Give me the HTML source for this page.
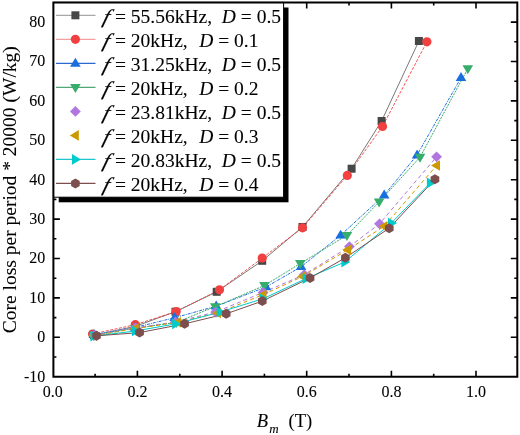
<!DOCTYPE html><html><head><meta charset="utf-8"><style>html,body{margin:0;padding:0;background:#fff;}svg{display:block;filter:blur(0.3px);}text{font-family:"Liberation Serif","Times New Roman",serif;fill:#000;stroke:#000;stroke-width:0.08px;}</style></head><body>
<svg width="520" height="435" viewBox="0 0 520 435">
<rect width="520" height="435" fill="#fff"/>
<polyline points="93.9,335.3 135.3,326.3 175.5,311.7 216.7,291.8 262.2,260.8 302.5,227.0 351.6,168.7 381.6,121.0 418.9,41.0" fill="none" stroke="#555555" stroke-width="0.8"/>
<polyline points="92.5,334.0 135.3,324.7 176.2,311.5 219.5,289.8 262.2,258.1 302.5,227.8 347.3,175.4 382.5,126.5 426.9,41.8" fill="none" stroke="#F14040" stroke-width="0.9" stroke-dasharray="3 1.5"/>
<polyline points="93.9,334.5 135.3,327.4 174.7,317.7 216.2,306.2 266.0,287.0 301.1,266.8 340.6,235.3 384.2,195.2 417.1,155.0 461.0,77.7" fill="none" stroke="#1A6FDF" stroke-width="1" stroke-dasharray="3 1 1 1"/>
<polyline points="93.9,335.3 135.3,328.2 176.4,322.3 215.3,306.6 264.4,285.5 300.3,263.5 346.9,235.3 379.1,202.0 420.0,157.2 467.8,68.6" fill="none" stroke="#37AD6B" stroke-width="1" stroke-dasharray="2 1"/>
<polyline points="93.9,335.3 135.3,327.8 175.5,321.9 215.7,312.1 263.1,292.4 304.2,274.7 349.4,246.6 379.5,223.8 436.6,156.8" fill="none" stroke="#B177DE" stroke-width="1" stroke-dasharray="4 3"/>
<polyline points="93.9,335.7 135.3,328.6 177.6,322.3 217.7,313.0 263.1,294.7 302.7,276.4 347.8,249.8 384.2,226.2 436.6,165.5" fill="none" stroke="#CC9900" stroke-width="1" stroke-dasharray="4 3"/>
<polyline points="93.9,336.1 135.3,331.0 175.5,323.9 220.0,312.1 263.1,298.7 306.0,278.6 344.8,262.0 391.4,223.0 430.3,182.9" fill="none" stroke="#00CBCC" stroke-width="1"/>
<polyline points="96.5,335.8 139.6,332.6 184.6,323.8 226.2,313.8 262.3,301.1 310.0,278.0 345.4,257.8 389.2,228.2 434.9,179.3" fill="none" stroke="#7D4E4E" stroke-width="1"/>
<rect x="89.9" y="331.3" width="8.0" height="8.0" fill="#474747"/>
<rect x="131.3" y="322.3" width="8.0" height="8.0" fill="#474747"/>
<rect x="171.5" y="307.7" width="8.0" height="8.0" fill="#474747"/>
<rect x="212.7" y="287.8" width="8.0" height="8.0" fill="#474747"/>
<rect x="258.2" y="256.8" width="8.0" height="8.0" fill="#474747"/>
<rect x="298.5" y="223.0" width="8.0" height="8.0" fill="#474747"/>
<rect x="347.6" y="164.7" width="8.0" height="8.0" fill="#474747"/>
<rect x="377.6" y="117.0" width="8.0" height="8.0" fill="#474747"/>
<rect x="414.9" y="37.0" width="8.0" height="8.0" fill="#474747"/>
<circle cx="92.5" cy="334.0" r="4.6" fill="#F14040"/>
<circle cx="135.3" cy="324.7" r="4.6" fill="#F14040"/>
<circle cx="176.2" cy="311.5" r="4.6" fill="#F14040"/>
<circle cx="219.5" cy="289.8" r="4.6" fill="#F14040"/>
<circle cx="262.2" cy="258.1" r="4.6" fill="#F14040"/>
<circle cx="302.5" cy="227.8" r="4.6" fill="#F14040"/>
<circle cx="347.3" cy="175.4" r="4.6" fill="#F14040"/>
<circle cx="382.5" cy="126.5" r="4.6" fill="#F14040"/>
<circle cx="426.9" cy="41.8" r="4.6" fill="#F14040"/>
<polygon points="93.9,328.9 99.2,337.9 88.5,337.9" fill="#1A6FDF"/>
<polygon points="135.3,321.8 140.6,330.8 130.0,330.8" fill="#1A6FDF"/>
<polygon points="174.7,312.1 180.0,321.1 169.4,321.1" fill="#1A6FDF"/>
<polygon points="216.2,300.6 221.5,309.5 210.8,309.5" fill="#1A6FDF"/>
<polygon points="266.0,281.4 271.3,290.3 260.7,290.3" fill="#1A6FDF"/>
<polygon points="301.1,261.2 306.4,270.1 295.8,270.1" fill="#1A6FDF"/>
<polygon points="340.6,229.7 345.9,238.6 335.3,238.6" fill="#1A6FDF"/>
<polygon points="384.2,189.6 389.5,198.5 378.8,198.5" fill="#1A6FDF"/>
<polygon points="417.1,149.4 422.5,158.4 411.8,158.4" fill="#1A6FDF"/>
<polygon points="461.0,72.1 466.3,81.0 455.7,81.0" fill="#1A6FDF"/>
<polygon points="93.9,340.9 99.2,332.0 88.5,332.0" fill="#37AD6B"/>
<polygon points="135.3,333.8 140.6,324.9 130.0,324.9" fill="#37AD6B"/>
<polygon points="176.4,327.9 181.7,319.0 171.1,319.0" fill="#37AD6B"/>
<polygon points="215.3,312.2 220.6,303.2 210.0,303.2" fill="#37AD6B"/>
<polygon points="264.4,291.1 269.7,282.1 259.1,282.1" fill="#37AD6B"/>
<polygon points="300.3,269.1 305.6,260.1 295.0,260.1" fill="#37AD6B"/>
<polygon points="346.9,240.9 352.2,231.9 341.6,231.9" fill="#37AD6B"/>
<polygon points="379.1,207.6 384.4,198.6 373.8,198.6" fill="#37AD6B"/>
<polygon points="420.0,162.8 425.3,153.8 414.7,153.8" fill="#37AD6B"/>
<polygon points="467.8,74.2 473.1,65.2 462.5,65.2" fill="#37AD6B"/>
<polygon points="93.9,329.9 99.3,335.3 93.9,340.7 88.5,335.3" fill="#B177DE"/>
<polygon points="135.3,322.4 140.7,327.8 135.3,333.2 129.9,327.8" fill="#B177DE"/>
<polygon points="175.5,316.5 180.9,321.9 175.5,327.3 170.1,321.9" fill="#B177DE"/>
<polygon points="215.7,306.7 221.1,312.1 215.7,317.5 210.3,312.1" fill="#B177DE"/>
<polygon points="263.1,287.0 268.5,292.4 263.1,297.8 257.7,292.4" fill="#B177DE"/>
<polygon points="304.2,269.3 309.6,274.7 304.2,280.1 298.8,274.7" fill="#B177DE"/>
<polygon points="349.4,241.2 354.8,246.6 349.4,252.0 344.0,246.6" fill="#B177DE"/>
<polygon points="379.5,218.4 384.9,223.8 379.5,229.2 374.1,223.8" fill="#B177DE"/>
<polygon points="436.6,151.4 442.0,156.8 436.6,162.2 431.2,156.8" fill="#B177DE"/>
<polygon points="88.3,335.7 97.2,330.4 97.2,341.0" fill="#CC9900"/>
<polygon points="129.7,328.6 138.7,323.3 138.7,334.0" fill="#CC9900"/>
<polygon points="172.0,322.3 181.0,317.0 181.0,327.6" fill="#CC9900"/>
<polygon points="212.1,313.0 221.0,307.7 221.0,318.3" fill="#CC9900"/>
<polygon points="257.5,294.7 266.5,289.4 266.5,300.1" fill="#CC9900"/>
<polygon points="297.1,276.4 306.1,271.1 306.1,281.7" fill="#CC9900"/>
<polygon points="342.2,249.8 351.2,244.5 351.2,255.2" fill="#CC9900"/>
<polygon points="378.6,226.2 387.5,220.9 387.5,231.5" fill="#CC9900"/>
<polygon points="431.0,165.5 440.0,160.2 440.0,170.8" fill="#CC9900"/>
<polygon points="99.5,336.1 90.5,330.8 90.5,341.4" fill="#00CBCC"/>
<polygon points="140.9,331.0 132.0,325.7 132.0,336.3" fill="#00CBCC"/>
<polygon points="181.1,323.9 172.2,318.6 172.2,329.2" fill="#00CBCC"/>
<polygon points="225.6,312.1 216.6,306.8 216.6,317.4" fill="#00CBCC"/>
<polygon points="268.7,298.7 259.8,293.4 259.8,304.0" fill="#00CBCC"/>
<polygon points="311.6,278.6 302.6,273.3 302.6,283.9" fill="#00CBCC"/>
<polygon points="350.4,262.0 341.4,256.7 341.4,267.4" fill="#00CBCC"/>
<polygon points="397.0,223.0 388.0,217.7 388.0,228.4" fill="#00CBCC"/>
<polygon points="435.9,182.9 426.9,177.5 426.9,188.2" fill="#00CBCC"/>
<polygon points="100.8,338.3 96.5,340.8 92.2,338.3 92.2,333.3 96.5,330.8 100.8,333.3" fill="#7D4E4E"/>
<polygon points="143.9,335.1 139.6,337.6 135.2,335.1 135.2,330.1 139.6,327.6 143.9,330.1" fill="#7D4E4E"/>
<polygon points="188.9,326.3 184.6,328.8 180.3,326.3 180.3,321.3 184.6,318.8 188.9,321.3" fill="#7D4E4E"/>
<polygon points="230.5,316.3 226.2,318.8 221.9,316.3 221.9,311.3 226.2,308.8 230.5,311.3" fill="#7D4E4E"/>
<polygon points="266.6,303.6 262.3,306.1 258.0,303.6 258.0,298.6 262.3,296.1 266.6,298.6" fill="#7D4E4E"/>
<polygon points="314.4,280.5 310.0,283.0 305.7,280.5 305.7,275.5 310.0,273.0 314.4,275.5" fill="#7D4E4E"/>
<polygon points="349.7,260.3 345.4,262.8 341.1,260.3 341.1,255.3 345.4,252.8 349.7,255.3" fill="#7D4E4E"/>
<polygon points="393.6,230.7 389.2,233.2 384.9,230.7 384.9,225.7 389.2,223.2 393.6,225.7" fill="#7D4E4E"/>
<polygon points="439.3,181.8 434.9,184.3 430.6,181.8 430.6,176.8 434.9,174.3 439.3,176.8" fill="#7D4E4E"/>
<path d="M95.1,376.8v-3M95.1,2.4v3M137.4,376.8v-6M137.4,2.4v6M179.8,376.8v-3M179.8,2.4v3M222.1,376.8v-6M222.1,2.4v6M264.4,376.8v-3M264.4,2.4v3M306.7,376.8v-6M306.7,2.4v6M349.0,376.8v-3M349.0,2.4v3M391.4,376.8v-6M391.4,2.4v6M433.7,376.8v-3M433.7,2.4v3M476.0,376.8v-6M476.0,2.4v6M53.4,357.0h3M517.3,357.0h-3M53.4,337.3h6.5M517.3,337.3h-6.5M53.4,317.6h3M517.3,317.6h-3M53.4,297.9h6.5M517.3,297.9h-6.5M53.4,278.2h3M517.3,278.2h-3M53.4,258.5h6.5M517.3,258.5h-6.5M53.4,238.8h3M517.3,238.8h-3M53.4,219.1h6.5M517.3,219.1h-6.5M53.4,199.4h3M517.3,199.4h-3M53.4,179.7h6.5M517.3,179.7h-6.5M53.4,160.0h3M517.3,160.0h-3M53.4,140.3h6.5M517.3,140.3h-6.5M53.4,120.6h3M517.3,120.6h-3M53.4,100.9h6.5M517.3,100.9h-6.5M53.4,81.2h3M517.3,81.2h-3M53.4,61.5h6.5M517.3,61.5h-6.5M53.4,41.8h3M517.3,41.8h-3M53.4,22.1h6.5M517.3,22.1h-6.5" stroke="#000" stroke-width="1.6" fill="none"/>
<rect x="58.7" y="7.5" width="229.8" height="194.8" fill="#000"/>
<rect x="53.4" y="2.4" width="230.20000000000002" height="194.79999999999998" fill="#fff" stroke="#000" stroke-width="1"/>
<line x1="56" y1="15.3" x2="95.5" y2="15.3" stroke="#a8a8a8" stroke-width="1.2"/>
<rect x="71.4" y="11.3" width="8.0" height="8.0" fill="#474747"/>
<text x="102.6" y="22.7" font-size="19.5" font-style="italic" style="stroke-width:0.2px" transform="translate(107.6,22.7) skewX(-16) scale(1.12,1) translate(-107.6,-22.7)">f</text>
<text x="110.1" y="22.7" font-size="19.5" style="white-space:pre"> = 55.56kHz,  <tspan font-style="italic" dx="0">D</tspan> = 0.5</text>
<line x1="56" y1="39.3" x2="95.5" y2="39.3" stroke="#f4a0a0" stroke-width="1.2"/>
<circle cx="75.4" cy="39.3" r="4.6" fill="#F14040"/>
<text x="102.6" y="46.7" font-size="19.5" font-style="italic" style="stroke-width:0.2px" transform="translate(107.6,46.7) skewX(-16) scale(1.12,1) translate(-107.6,-46.7)">f</text>
<text x="110.1" y="46.7" font-size="19.5" style="white-space:pre"> = 20kHz,  <tspan font-style="italic" dx="1.8">D</tspan> = 0.1</text>
<line x1="56" y1="63.3" x2="95.5" y2="63.3" stroke="#2a6ad0" stroke-width="1.2"/>
<polygon points="75.4,57.7 80.7,66.7 70.1,66.7" fill="#1A6FDF"/>
<text x="102.6" y="70.7" font-size="19.5" font-style="italic" style="stroke-width:0.2px" transform="translate(107.6,70.7) skewX(-16) scale(1.12,1) translate(-107.6,-70.7)">f</text>
<text x="110.1" y="70.7" font-size="19.5" style="white-space:pre"> = 31.25kHz,  <tspan font-style="italic" dx="0">D</tspan> = 0.5</text>
<line x1="56" y1="87.4" x2="95.5" y2="87.4" stroke="#50a878" stroke-width="1.2"/>
<polygon points="75.4,93.0 80.7,84.0 70.1,84.0" fill="#37AD6B"/>
<text x="102.6" y="94.8" font-size="19.5" font-style="italic" style="stroke-width:0.2px" transform="translate(107.6,94.8) skewX(-16) scale(1.12,1) translate(-107.6,-94.8)">f</text>
<text x="110.1" y="94.8" font-size="19.5" style="white-space:pre"> = 20kHz,  <tspan font-style="italic" dx="1.8">D</tspan> = 0.2</text>
<polygon points="75.4,106.0 80.8,111.4 75.4,116.8 70.0,111.4" fill="#B177DE"/>
<text x="102.6" y="118.8" font-size="19.5" font-style="italic" style="stroke-width:0.2px" transform="translate(107.6,118.8) skewX(-16) scale(1.12,1) translate(-107.6,-118.8)">f</text>
<text x="110.1" y="118.8" font-size="19.5" style="white-space:pre"> = 23.81kHz,  <tspan font-style="italic" dx="0">D</tspan> = 0.5</text>
<polygon points="69.8,135.4 78.8,130.1 78.8,140.7" fill="#CC9900"/>
<text x="102.6" y="142.8" font-size="19.5" font-style="italic" style="stroke-width:0.2px" transform="translate(107.6,142.8) skewX(-16) scale(1.12,1) translate(-107.6,-142.8)">f</text>
<text x="110.1" y="142.8" font-size="19.5" style="white-space:pre"> = 20kHz,  <tspan font-style="italic" dx="1.8">D</tspan> = 0.3</text>
<line x1="56" y1="159.4" x2="95.5" y2="159.4" stroke="#20c4cc" stroke-width="1.2"/>
<polygon points="81.0,159.4 72.0,154.1 72.0,164.7" fill="#00CBCC"/>
<text x="102.6" y="166.8" font-size="19.5" font-style="italic" style="stroke-width:0.2px" transform="translate(107.6,166.8) skewX(-16) scale(1.12,1) translate(-107.6,-166.8)">f</text>
<text x="110.1" y="166.8" font-size="19.5" style="white-space:pre"> = 20.83kHz,  <tspan font-style="italic" dx="0">D</tspan> = 0.5</text>
<line x1="56" y1="183.4" x2="95.5" y2="183.4" stroke="#7D4E4E" stroke-width="1.2"/>
<polygon points="79.7,185.9 75.4,188.4 71.1,185.9 71.1,180.9 75.4,178.4 79.7,180.9" fill="#7D4E4E"/>
<text x="102.6" y="190.8" font-size="19.5" font-style="italic" style="stroke-width:0.2px" transform="translate(107.6,190.8) skewX(-16) scale(1.12,1) translate(-107.6,-190.8)">f</text>
<text x="110.1" y="190.8" font-size="19.5" style="white-space:pre"> = 20kHz,  <tspan font-style="italic" dx="1.8">D</tspan> = 0.4</text>
<path d="M53.4,2.4H517.3V376.8H53.4Z" fill="none" stroke="#000" stroke-width="2"/>
<text x="52.8" y="396.8" font-size="16" text-anchor="middle">0.0</text>
<text x="137.4" y="396.8" font-size="16" text-anchor="middle">0.2</text>
<text x="222.1" y="396.8" font-size="16" text-anchor="middle">0.4</text>
<text x="306.7" y="396.8" font-size="16" text-anchor="middle">0.6</text>
<text x="391.4" y="396.8" font-size="16" text-anchor="middle">0.8</text>
<text x="476.0" y="396.8" font-size="16" text-anchor="middle">1.0</text>
<text x="45.3" y="381.5" font-size="16" text-anchor="end">-10</text>
<text x="45.3" y="342.1" font-size="16" text-anchor="end">0</text>
<text x="45.3" y="302.7" font-size="16" text-anchor="end">10</text>
<text x="45.3" y="263.3" font-size="16" text-anchor="end">20</text>
<text x="45.3" y="223.9" font-size="16" text-anchor="end">30</text>
<text x="45.3" y="184.5" font-size="16" text-anchor="end">40</text>
<text x="45.3" y="145.1" font-size="16" text-anchor="end">50</text>
<text x="45.3" y="105.7" font-size="16" text-anchor="end">60</text>
<text x="45.3" y="66.3" font-size="16" text-anchor="end">70</text>
<text x="45.3" y="26.9" font-size="16" text-anchor="end">80</text>
<text transform="translate(15.7,189.7) rotate(-90)" font-size="19.5" text-anchor="middle">Core loss per period * 20000 (W/kg)</text>
<text x="256.8" y="427.2" font-size="18.5" font-style="italic">B</text><text x="269.2" y="433" font-size="13" font-style="italic">m</text><text x="288.6" y="427.2" font-size="18.5">(T)</text>
</svg></body></html>
